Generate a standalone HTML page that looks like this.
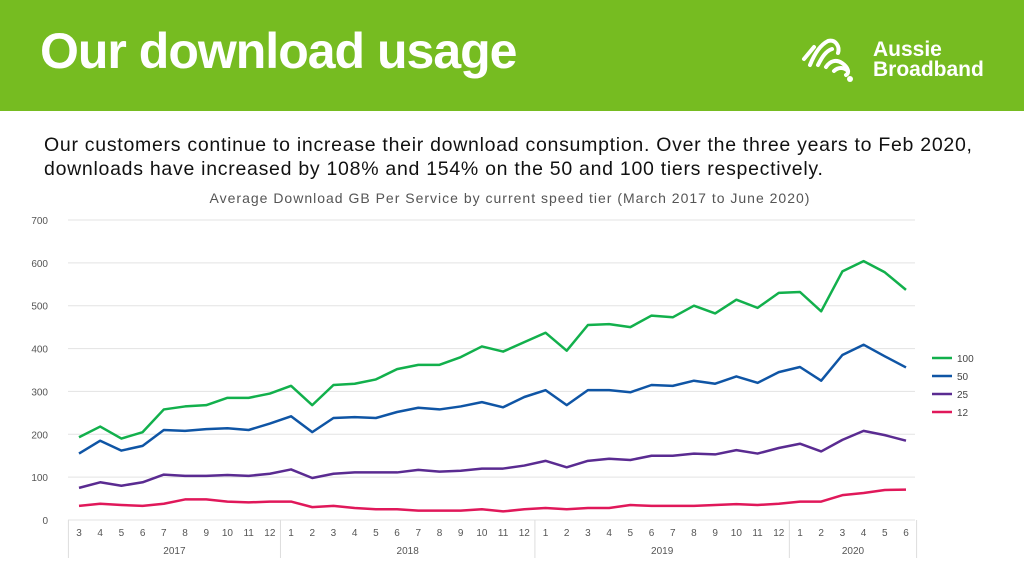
<!DOCTYPE html>
<html><head><meta charset="utf-8"><style>
body{margin:0;width:1024px;height:575px;background:#fff;font-family:"Liberation Sans",sans-serif;overflow:hidden;position:relative}
.hdr{position:absolute;left:0;top:0;width:1024px;height:111px;background:#76bc21}
.ttl{position:absolute;left:40px;top:22px;color:#fff;font-size:50px;font-weight:bold;letter-spacing:-1px}
.logo{position:absolute;left:873px;top:40px;color:#fff;font-size:21px;font-weight:bold;line-height:20px}
.intro{position:absolute;left:44px;top:133px;font-size:19.5px;color:#111;line-height:24px;letter-spacing:0.72px;white-space:nowrap}
</style></head><body>
<div class="hdr"></div>
<div class="ttl">Our download usage</div>
<svg style="position:absolute;left:800px;top:35px" width="62" height="48">
<g fill="none" stroke="#fff" stroke-width="4" stroke-linecap="round">
<path d="M4 24 L14 12"/><path d="M10 30 C14 20 20 10 28 6 C36 4 40 12 38 18"/><path d="M18 30 C22 22 26 16 32 14"/><path d="M26 32 C30 26 36 24 42 28 C48 32 50 38 46 40"/><path d="M34 36 C38 32 44 32 48 36"/></g>
<circle cx="50" cy="44" r="3" fill="#fff"/></svg>
<div class="logo">Aussie<br>Broadband</div>
<div class="intro">Our customers continue to increase their download consumption. Over the three years to Feb 2020,<br>downloads have increased by 108% and 154% on the 50 and 100 tiers respectively.</div>
<svg id="chart" style="position:absolute;left:0;top:0" width="1024" height="575"></svg>
<script>
const months=[3,4,5,6,7,8,9,10,11,12,1,2,3,4,5,6,7,8,9,10,11,12,1,2,3,4,5,6,7,8,9,10,11,12,1,2,3,4,5,6];
const years=["2017","2018","2019","2020"];
const yearStarts=[0,10,22,34];
const yTicks=[0,100,200,300,400,500,600,700];
const seriesNames=["100","50","25","12"];
const seriesColors=["#12b04c","#0f55a5","#5a2b91","#e0185a"];
const s100=[193,218,190,205,258,265,268,285,285,295,313,268,315,318,328,352,362,362,380,405,393,415,437,395,455,457,450,477,473,500,482,514,495,530,532,487,580,604,578,537];
const s50=[155,185,162,173,210,208,212,214,210,225,242,205,238,240,238,252,262,258,265,275,263,287,303,268,303,303,298,315,313,325,318,335,320,345,357,325,385,409,382,356];
const s25=[75,88,80,88,106,103,103,105,103,108,118,98,108,111,111,111,117,113,115,120,120,127,138,123,138,143,140,150,150,155,153,163,155,168,178,160,187,208,198,185];
const s12=[33,38,35,33,38,48,48,43,41,43,43,30,33,28,25,25,22,22,22,25,20,25,28,25,28,28,35,33,33,33,35,37,35,38,43,43,58,63,70,71];
const series=[s100,s50,s25,s12];
const svg=document.getElementById('chart');const NS='http://www.w3.org/2000/svg';
const x=i=>79+i*(906-79)/(months.length-1);
const y=v=>520-v*(300/700);
function mk(t,a,txt){const e=document.createElementNS(NS,t);for(const k in a)e.setAttribute(k,a[k]);if(txt!=null)e.textContent=txt;svg.appendChild(e);return e;}
let t=mk('text',{x:510,y:203,'text-anchor':'middle','font-size':14,fill:'#555','letter-spacing':1},'Average Download GB Per Service by current speed tier (March 2017 to June 2020)');


yTicks.forEach(v=>{
 let g=mk('line',{x1:68,x2:915,y1:y(v),y2:y(v),stroke:'#e3e3e3','stroke-width':1});
 
 
 let l=mk('text',{x:48,y:y(v)+4,'text-anchor':'end','font-size':10,fill:'#555'},v);
 
 
});
months.forEach((m,i)=>{
 let l=mk('text',{x:x(i),y:536,'text-anchor':'middle','font-size':10,fill:'#555'},m);
 
 
});
const step=(906-79)/(months.length-1);
let bounds=yearStarts.concat([months.length]);
bounds.forEach(b=>{let s=mk('line',{x1:x(b)-step/2,x2:x(b)-step/2,y1:520,y2:558,stroke:'#ddd'});
 
 });
years.forEach((yr,k)=>{
 const a=x(yearStarts[k]),b=x(bounds[k+1]-1);
 let l=mk('text',{x:(a+b)/2,y:554,'text-anchor':'middle','font-size':10,fill:'#555'},yr);
 
 
});
series.forEach((s,k)=>{
 let p=mk('polyline',{points:s.map((v,i)=>x(i)+','+y(v)).join(' '),fill:'none',stroke:seriesColors[k],'stroke-width':2.5,'stroke-linejoin':'round'});
 
 
 let ly=358+k*18;
 let ll=mk('line',{x1:932,x2:952,y1:ly,y2:ly,stroke:seriesColors[k],'stroke-width':2.5});
 
 
 let lt=mk('text',{x:957,y:ly+4,'font-size':10,fill:'#444'},seriesNames[k]);
 
 
});
</script>
</body></html>
